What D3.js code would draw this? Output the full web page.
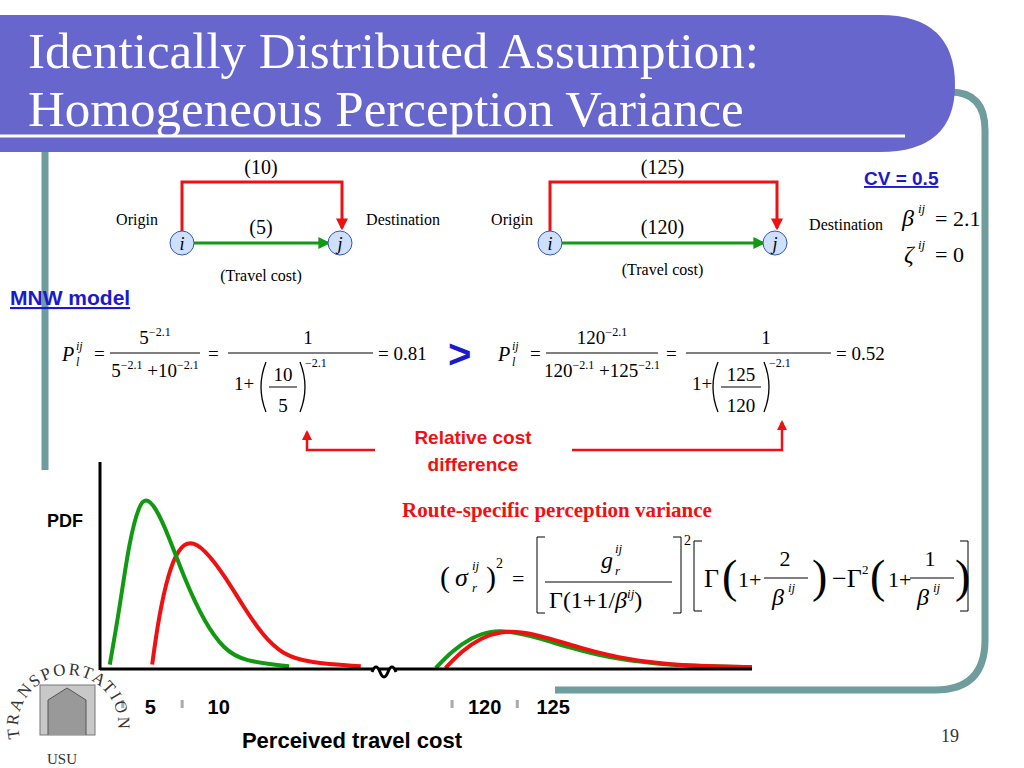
<!DOCTYPE html><html><head><meta charset="utf-8">
<script src="https://cdn.jsdelivr.net/npm/d3@7"></script>
<style>body{margin:0}svg{display:block}</style></head><body>
<script>
// Curve data: [position on cost axis (display units 0-100), pdf value]
const greenLow=[[1.5,0.02],[3,0.35],[4.5,0.75],[6,0.96],[7,1.0],[8.5,0.95],[10.5,0.78],[13,0.52],[16,0.27],[19,0.11],[22,0.04],[29,0.01]];
const redLow=[[8,0.02],[9,0.3],[10.5,0.56],[12,0.7],[13.8,0.75],[16,0.7],[19,0.55],[22,0.36],[25,0.19],[28,0.08],[32,0.03],[40,0.01]];
const greenHigh=[[51.5,0.0],[54,0.1],[57,0.18],[60,0.22],[63,0.215],[67,0.18],[72,0.12],[78,0.06],[85,0.025],[92,0.01],[100,0.005]];
const redHigh=[[53,0.0],[55.5,0.1],[58.5,0.18],[61.5,0.215],[64.5,0.215],[68.5,0.18],[73.5,0.12],[79.5,0.06],[86,0.025],[93,0.01],[100,0.005]];
const tickVals=[7.7,18.2,59,69.5];
const tickLabels=["5","10","120","125"];

const W=1024,H=768;
const svg=d3.select("body").append("svg").attr("width",W).attr("height",H);
svg.append("rect").attr("width",W).attr("height",H).attr("fill","#fff");
const fr="#6f9c9c";
svg.append("path").attr("d","M45,150 L45,470").attr("stroke",fr).attr("stroke-width",7).attr("fill","none");
svg.append("path").attr("d","M950,92 Q985,92 985,130 L985,640 Q985,690 935,690 L555,690").attr("stroke",fr).attr("stroke-width",7).attr("fill","none");
svg.append("path").attr("d","M0,15 L880,15 Q955,15 955,85 Q955,152 880,152 L0,152 Z").attr("fill","#6666cc");
svg.append("line").attr("x1",0).attr("x2",905).attr("y1",136).attr("y2",136).attr("stroke","#fff").attr("stroke-width",3);
const tt=svg.append("g").attr("font-family","Liberation Serif, serif").attr("font-size",51).attr("fill","#fff");
tt.append("text").attr("x",28).attr("y",68).text("Identically Distributed Assumption:");
tt.append("text").attr("x",28).attr("y",126).text("Homogeneous Perception Variance");

const defs=svg.append("defs");
function mk(id,c){defs.append("marker").attr("id",id).attr("viewBox","0 0 10 10").attr("refX",8).attr("refY",5).attr("markerWidth",4).attr("markerHeight",4).attr("orient","auto").append("path").attr("d","M0,0L10,5L0,10Z").attr("fill",c);}
mk("ag","#119911");mk("ar","#ee1111");
function net(xi,xj,lt,lb,lo,ld,dy){
  const g=svg.append("g").attr("font-family","Liberation Serif, serif");
  g.append("path").attr("d",`M${xi},231 L${xi},182 L${xj+2},182 L${xj+2},228`).attr("stroke","#ee1111").attr("stroke-width",3).attr("fill","none").attr("marker-end","url(#ar)");
  g.append("line").attr("x1",xi+12).attr("x2",xj-12).attr("y1",243).attr("y2",243).attr("stroke","#119911").attr("stroke-width",3).attr("marker-end","url(#ag)");
  [[xi,"i"],[xj,"j"]].forEach(([x,t])=>{g.append("circle").attr("cx",x).attr("cy",243).attr("r",12).attr("fill","#cfe0ff").attr("stroke","#3355bb");
   g.append("text").attr("x",x).attr("y",250).attr("text-anchor","middle").attr("font-style","italic").attr("font-size",18).text(t);});
  g.append("text").attr("x",(xi+xj)/2).attr("y",174).attr("text-anchor","middle").attr("font-size",20).text(lt);
  g.append("text").attr("x",(xi+xj)/2).attr("y",234).attr("text-anchor","middle").attr("font-size",20).text(lb);
  g.append("text").attr("x",lo).attr("y",225).attr("text-anchor","middle").attr("font-size",16).text("Origin");
  g.append("text").attr("x",ld).attr("y",225+dy).attr("text-anchor","middle").attr("font-size",16).text("Destination");
  g.append("text").attr("x",(xi+xj)/2).attr("y",dy?275:281).attr("text-anchor","middle").attr("font-size",16).text("(Travel cost)");
}
net(182,340,"(10)","(5)",137,403,0);
net(550,775,"(125)","(120)",512,846,5);

const bl=svg.append("g").attr("font-family","Liberation Sans, Arial").attr("font-weight","bold").attr("fill","#1a1acc");
bl.append("text").attr("x",864).attr("y",185).attr("font-size",19).attr("text-decoration","underline").text("CV = 0.5");
bl.append("text").attr("x",10).attr("y",305).attr("font-size",21).attr("text-decoration","underline").text("MNW model");
bl.append("text").attr("x",448).attr("y",368).attr("font-size",40).text(">");

const m=svg.append("g").attr("font-family","Liberation Serif, serif").attr("font-size",19);
function T(x,y,t,o={}){const e=m.append("text").attr("x",x).attr("y",y).attr("text-anchor",o.a||"start").attr("font-size",o.s||19).attr("font-style",o.i?"italic":null);e.html(t);return e;}
function L(x1,x2,y){m.append("line").attr("x1",x1).attr("x2",x2).attr("y1",y).attr("y2",y).attr("stroke","#000");}
function P(x,dir){m.append("path").attr("d",`M${x},362 Q${x-10*dir},387 ${x},412`).attr("stroke","#000").attr("stroke-width",1.3).attr("fill","none");}
T(902,226,"β",{s:24,i:1});T(918,213,"ij",{s:13,i:1});T(935,226,"= 2.1",{s:22});
T(904,262,"ζ",{s:24,i:1});T(918,249,"ij",{s:13,i:1});T(935,262,"= 0",{s:22});
function formula(x0,a,b,res,n1){
  T(x0,361,"P",{i:1,s:20});T(x0+14,350,"ij",{s:12,i:1});T(x0+14,366,"l",{s:12,i:1});
  T(x0+32,360,"=");
  const w=n1>1?108:86;
  T(x0+50+w/2,344,a+"<tspan dy='-8' font-size='12'>−2.1</tspan>",{a:"middle"});L(x0+48,x0+52+w,353);
  T(x0+50+w/2,377,a+"<tspan dy='-8' font-size='12'>−2.1</tspan><tspan dy='8'> +</tspan>"+b+"<tspan dy='-8' font-size='12'>−2.1</tspan>",{a:"middle"});
  const x1=x0+60+w;T(x1,360,"=");
  T(x1+100,344,"1",{a:"middle"});L(x1+20,x1+165,353);
  T(x1+26,390,"1+");
  const hw=n1>1?20:14;
  P(x1+75-hw-3,1);P(x1+75+hw+3,-1);
  T(x1+75,381,b,{a:"middle"});L(x1+75-hw,x1+75+hw,387);T(x1+75,412,a,{a:"middle"});
  T(x1+75+hw+8,367,"−2.1",{s:12});T(x1+170,360,"= "+res);
}
formula(62,"5","10","0.81",1);
formula(498,"120","125","0.52",2);

const ra=svg.append("g").attr("stroke","#ee1111").attr("stroke-width",2.5).attr("fill","none");
ra.append("path").attr("d","M375,450 L307,450 L307,432").attr("marker-end","url(#ar)");
ra.append("path").attr("d","M572,450 L782,450 L782,422").attr("marker-end","url(#ar)");
const rl=svg.append("g").attr("font-family","Liberation Sans, Arial").attr("font-weight","bold").attr("fill","#ee1111").attr("font-size",19).attr("text-anchor","middle");
rl.append("text").attr("x",473).attr("y",444).text("Relative cost");
rl.append("text").attr("x",473).attr("y",471).text("difference");
svg.append("text").attr("x",557).attr("y",517).attr("text-anchor","middle").attr("font-family","Liberation Serif, serif").attr("font-weight","bold").attr("font-size",21).attr("fill","#ee1111").text("Route-specific perception variance");

const v=svg.append("g").attr("font-family","Liberation Serif, serif").attr("font-size",22);
function V(x,y,t,o={}){v.append("text").attr("x",x).attr("y",y).attr("font-size",o.s||22).attr("font-style",o.i?"italic":null).attr("text-anchor",o.a||"start").html(t);}
V(440,587,"(",{s:30});V(455,586,"σ",{i:1,s:26});V(472,570,"ij",{i:1,s:13});V(472,592,"r",{i:1,s:13});V(486,587,")",{s:30});V(496,568,"2",{s:14});
V(512,586,"=");
v.append("path").attr("d","M545,537 L537,537 L537,613 L545,613 M673,537 L681,537 L681,613 L673,613").attr("stroke","#000").attr("fill","none");
V(684,545,"2",{s:14});
V(607,568,"g",{i:1,a:"middle",s:24});V(615,553,"ij",{i:1,s:13});V(615,575,"r",{i:1,s:13});
v.append("line").attr("x1",545).attr("x2",672).attr("y1",582).attr("y2",582).attr("stroke","#000");
V(549,608,"Γ(1+1/<tspan font-style='italic'>β</tspan><tspan dy='-10' font-size='13' font-style='italic'>ij</tspan><tspan dy='10'>)</tspan>",{s:24});
v.append("path").attr("d","M702,541 L694,541 L694,611 L702,611 M960,541 L968,541 L968,611 L960,611").attr("stroke","#000").attr("fill","none");
V(704,587,"Γ",{s:26});V(722,592,"(",{s:46});V(738,587,"1+");
V(785,566,"2",{a:"middle"});v.append("line").attr("x1",764).attr("x2",808).attr("y1",578).attr("y2",578).attr("stroke","#000");
V(772,605,"β",{i:1,s:24});V(788,592,"ij",{i:1,s:13});V(812,592,")",{s:46});
V(832,587,"−Γ",{s:26});V(862,574,"2",{s:13});V(870,592,"(",{s:46});V(888,587,"1+");
V(930,566,"1",{a:"middle"});v.append("line").attr("x1",910).attr("x2",954).attr("y1",578).attr("y2",578).attr("stroke","#000");
V(917,605,"β",{i:1,s:24});V(933,592,"ij",{i:1,s:13});V(955,592,")",{s:46});

const x=d3.scaleLinear().domain([0,100]).range([100,752]);
const y=d3.scaleLinear().domain([0,1]).range([668,498]);
const line=d3.line().x(d=>x(d[0])).y(d=>y(d[1])).curve(d3.curveBasis);
[[redLow,"#ee1111"],[greenLow,"#119911"],[greenHigh,"#119911"],[redHigh,"#ee1111"]].forEach(([d,c])=>
 svg.append("path").datum(d).attr("d",line).attr("fill","none").attr("stroke",c).attr("stroke-width",4));
svg.append("line").attr("x1",x(0)).attr("x2",x(0)).attr("y1",462).attr("y2",670).attr("stroke","#000").attr("stroke-width",3);
svg.append("line").attr("x1",x(0)).attr("x2",x(100)).attr("y1",669).attr("y2",669).attr("stroke","#000").attr("stroke-width",3);
svg.append("path").attr("d","M372,672 q4,-10 8,0 q4,10 8,0 q4,-10 8,0").attr("stroke","#000").attr("stroke-width",3).attr("fill","#fff");
const ax=svg.append("g").attr("font-family","Liberation Sans, Arial").attr("font-weight","bold").attr("font-size",20);
tickVals.forEach((t,i)=>ax.append("text").attr("x",x(t)).attr("y",714).attr("text-anchor","middle").text(tickLabels[i]));
[3.5,12.6,54,64].forEach(t=>svg.append("rect").attr("x",x(t)-1.5).attr("y",700).attr("width",3).attr("height",8).attr("fill","#aaa"));
ax.append("text").attr("x",352).attr("y",748).attr("text-anchor","middle").attr("font-size",22).text("Perceived travel cost");
ax.append("text").attr("x",65).attr("y",527).attr("text-anchor","middle").attr("font-size",18).text("PDF");
svg.append("text").attr("x",950).attr("y",742).attr("text-anchor","middle").attr("font-family","Liberation Serif, serif").attr("font-size",18).attr("fill","#333").text("19");

const lg=svg.append("g");
defs.append("path").attr("id","arc").attr("d","M20,738 A50,50 0 1 1 118,730");
lg.append("text").attr("font-family","Liberation Serif, serif").attr("font-size",17).attr("letter-spacing",2).attr("fill","#333")
 .append("textPath").attr("href","#arc").text("TRANSPORTATION");
lg.append("rect").attr("x",40).attr("y",685).attr("width",55).attr("height",50).attr("fill","#c8c8c8").attr("stroke","#777");
lg.append("path").attr("d","M48,735 L48,700 L67,688 L86,700 L86,735").attr("fill","#999").attr("stroke","#555");
lg.append("text").attr("x",62).attr("y",764).attr("text-anchor","middle").attr("font-family","Liberation Serif, serif").attr("font-size",15).attr("fill","#333").text("USU");
</script></body></html>
